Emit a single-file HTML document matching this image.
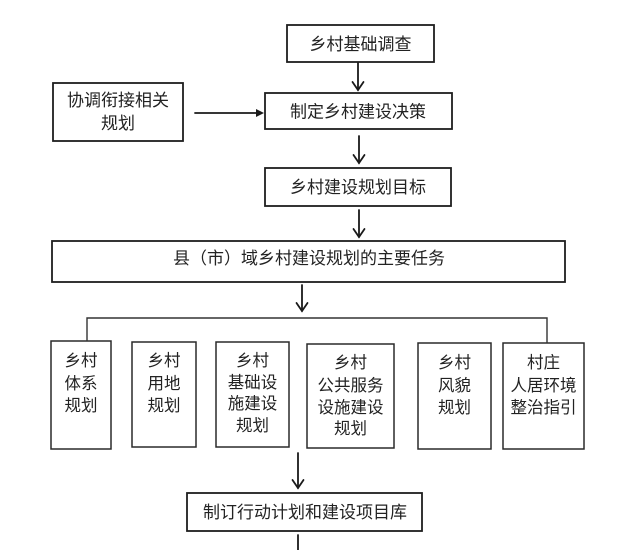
<!DOCTYPE html>
<html>
<head>
<meta charset="utf-8">
<style>
  html, body { margin: 0; padding: 0; background: #ffffff; }
  body { width: 643px; height: 550px; overflow: hidden; }
  svg { display: block; }
  text { font-family: "Liberation Sans", "Noto Sans CJK SC", "WenQuanYi Zen Hei", sans-serif; fill: #222; }
</style>
</head>
<body>
<svg width="643" height="550" viewBox="0 0 643 550" xmlns="http://www.w3.org/2000/svg">
  <rect x="0" y="0" width="643" height="550" fill="#ffffff"/>

  <!-- Boxes -->
  <g fill="none" stroke="#1e1e1e" stroke-width="1.8">
    <rect x="287" y="25" width="147" height="37"/>
    <rect x="53" y="83" width="130" height="58"/>
    <rect x="265" y="93" width="187" height="36"/>
    <rect x="265" y="168" width="186" height="38"/>
    <rect x="52" y="241" width="513" height="41"/>
    <rect x="187" y="493" width="235" height="38"/>
  </g>
  <g fill="none" stroke="#2a2a2a" stroke-width="1.5">
    <rect x="51" y="341" width="60" height="108"/>
    <rect x="132" y="342" width="64" height="105"/>
    <rect x="216" y="342" width="73" height="105"/>
    <rect x="307" y="344" width="87" height="104"/>
    <rect x="418" y="343" width="73" height="106"/>
    <rect x="503" y="343" width="81" height="106"/>
  </g>

  <!-- Connectors -->
  <g fill="none" stroke="#1a1a1a" stroke-width="1.8" stroke-linecap="round" stroke-linejoin="miter">
    <!-- A -> C -->
    <line x1="358" y1="63" x2="358" y2="90"/>
    <polyline points="352.5,82 358,90 363.5,82"/>
    <!-- C -> D -->
    <line x1="359" y1="136" x2="359" y2="163"/>
    <polyline points="353.5,155 359,163 364.5,155"/>
    <!-- D -> E -->
    <line x1="359" y1="210" x2="359" y2="237"/>
    <polyline points="353.5,229 359,237 364.5,229"/>
    <!-- E -> bar -->
    <line x1="302" y1="285" x2="302" y2="311"/>
    <polyline points="296.5,303 302,311 307.5,303"/>
    <!-- subs -> F -->
    <line x1="298" y1="453" x2="298" y2="488"/>
    <polyline points="292.5,480 298,488 303.5,480"/>
    <!-- F -> bottom -->
    <line x1="298" y1="535" x2="298" y2="552"/>
    <!-- B -> C -->
    <line x1="195" y1="113" x2="257" y2="113"/>
  </g>
  <polygon points="256,109 264,113 256,117" fill="#1a1a1a"/>

  <!-- Branch bar -->
  <g fill="none" stroke="#333" stroke-width="1.4">
    <polyline points="87,341 87,318 547,318 547,343"/>
  </g>

  <!-- Labels -->
  <g font-size="17" text-anchor="middle">
    <text x="360.5" y="50">乡村基础调查</text>
    <text x="118" y="106">协调衔接相关</text>
    <text x="118" y="129">规划</text>
    <text x="358" y="117.5">制定乡村建设决策</text>
    <text x="358" y="193">乡村建设规划目标</text>
    <text x="309" y="264">县（市）域乡村建设规划的主要任务</text>
    <text x="305" y="518">制订行动计划和建设项目库</text>
  </g>

  <g font-size="16.5" text-anchor="middle">
    <text x="81" y="366">乡村</text>
    <text x="81" y="389">体系</text>
    <text x="81" y="411">规划</text>

    <text x="164" y="366">乡村</text>
    <text x="164" y="389">用地</text>
    <text x="164" y="411">规划</text>

    <text x="252.5" y="366">乡村</text>
    <text x="252.5" y="388">基础设</text>
    <text x="252.5" y="409">施建设</text>
    <text x="252.5" y="431">规划</text>

    <text x="350.5" y="368">乡村</text>
    <text x="350.5" y="391">公共服务</text>
    <text x="350.5" y="413">设施建设</text>
    <text x="350.5" y="434">规划</text>

    <text x="454.5" y="368">乡村</text>
    <text x="454.5" y="391">风貌</text>
    <text x="454.5" y="413">规划</text>

    <text x="543.5" y="368">村庄</text>
    <text x="543.5" y="391">人居环境</text>
    <text x="543.5" y="413">整治指引</text>
  </g>
</svg>
</body>
</html>
